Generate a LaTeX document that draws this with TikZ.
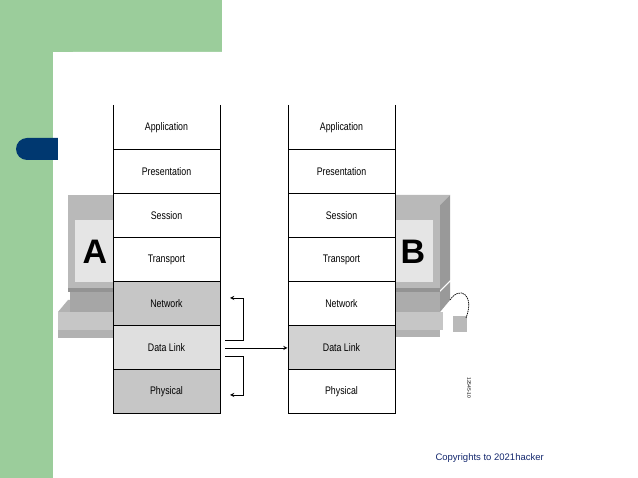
\documentclass[tikz,border=0pt]{standalone}
\usepackage{fontspec}
\setmainfont{Liberation Sans}
\begin{document}
\begin{tikzpicture}[x=1pt,y=-1pt,
  lay/.style={draw=black,line width=1pt,minimum width=107pt,minimum height=44pt,inner sep=0pt,font=\fontsize{11}{12}\selectfont\addfontfeatures{FakeStretch=0.8}},
  arr/.style={-stealth,line width=0.9pt},
  ln/.style={line width=0.9pt}]
\useasboundingbox (0,0) rectangle (638,478);
\fill[fill={rgb,255:red,155;green,205;blue,155}] (0,0) rectangle (222,52);
\fill[fill={rgb,255:red,155;green,205;blue,155}] (0,0) rectangle (53,478);
\fill[white,rounded corners=20pt] (53,520) -- (53,52) -- (260,52) -- (260,520) -- cycle;
\fill[fill={rgb,255:red,0;green,56;blue,112},rounded corners=11pt] (70,138) -- (16,138) -- (16,160) -- (70,160) -- cycle;
\fill[white] (58,130) rectangle (75,170);
% computer A
\fill[gray!60] (58,312) -- (68,300) -- (113,300) -- (113,338) -- (58,338) -- cycle;
\fill[gray!45] (58,312) rectangle (113,330);
\fill[gray!70] (70,290) rectangle (113,312);
\fill[gray!85] (68,288) rectangle (113,292);
\fill[gray!55] (68,195) rectangle (113,288);
\fill[gray!20] (75,220) rectangle (113,282);
\node[font=\fontsize{34}{34}\selectfont\bfseries] (la) at (95,252) {A};
% computer B
\fill[gray!55] (395,195) -- (450,195) -- (440,205) -- (395,205) -- cycle;
\fill[gray!55] (395,205) rectangle (440,288);
\fill[gray!80] (440,205) -- (450,195) -- (450,280) -- (440,290) -- cycle;
\fill[gray!20] (395,220) rectangle (433,282);
\fill[gray!85] (395,288) rectangle (440,292);
\fill[gray!65] (395,292) rectangle (440,312);
\fill[gray!80] (440,292) -- (450,282) -- (450,300) -- (440,312) -- cycle;
\fill[gray!45] (395,312) rectangle (443,330);
\fill[gray!60] (395,330) rectangle (440,337);
\fill[gray!55] (453,316) rectangle (467,332);
\draw[dash pattern=on 1.5pt off 0.7pt,line width=0.7pt] (450,300) .. controls (460,285) and (475,295) .. (466,318);
\node[font=\fontsize{34}{34}\selectfont\bfseries] (lb) at (413,252) {B};
% stacks
\foreach \s/\x in {a/166.5,b/341.5}{
  \draw[line width=1pt] (\x-53.5,105) -- (\x-53.5,150) (\x+53.5,105) -- (\x+53.5,150);
  \node[lay,draw=none] (\s1) at (\x,128) {Application};
  \node[lay] (\s2) at (\x,172) {Presentation};
  \node[lay] (\s3) at (\x,216) {Session};
  \node[lay] (\s4) at (\x,260) {Transport};
}
\node[lay,fill=gray!45] (a5) at (166.5,304) {Network};
\node[lay,fill=gray!25] (a6) at (166.5,348) {Data Link};
\node[lay,fill=gray!45] (a7) at (166.5,392) {Physical};
\node[lay] (b5) at (341.5,304) {Network};
\node[lay,fill=gray!35] (b6) at (341.5,348) {Data Link};
\node[lay] (b7) at (341.5,392) {Physical};
% arrows
\coordinate (u) at (243,298);
\coordinate (d) at (243,395);
\draw[arr] (225,348) -- (b6.west);
\draw[arr] (225,340) -- (243,340) -- (u) -- (230,298);
\draw[arr] (225,356) -- (243,356) -- (d) -- (230,395);
\node[rotate=-90,font=\fontsize{5}{5}\selectfont] (id) at (469,388) {12545-10};
\node[anchor=west,text={rgb,255:red,20;green,40;blue,110},font=\fontsize{9.5}{10}\selectfont] (cp) at (432,458) {Copyrights to 2021hacker};
\end{tikzpicture}
\end{document}
